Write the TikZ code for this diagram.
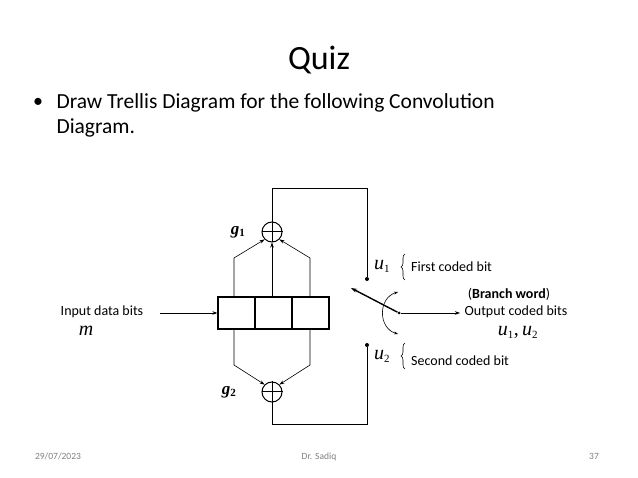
\documentclass[tikz,border=0pt]{standalone}
\usepackage{fontspec}
\setmainfont{Carlito}
\newfontfamily\tms{Liberation Serif}
\usetikzlibrary{arrows.meta,decorations.pathreplacing}
\newcommand{\sbs}[1]{\textsubscript{\upshape\fontsize{11}{11}\selectfont #1}}
\begin{document}
\begin{tikzpicture}[x=1pt,y=-1pt,
  ln/.style={line width=0.6pt},
  arr/.style={ln,-{Stealth[length=5pt,width=3.5pt]}},
  xorc/.style={circle,draw,line width=1pt,minimum size=20pt,inner sep=0pt},
  cell/.style={draw,line width=1.2pt,minimum width=37pt,minimum height=32pt,inner sep=0pt},
  dotn/.style={circle,fill,inner sep=0pt,minimum size=4pt},
  var/.style={font=\tms\itshape\fontsize{20}{20}\selectfont,inner sep=1pt},
  gv/.style={font=\tms\bfseries\itshape\fontsize{17}{17}\selectfont},
  lbl/.style={font=\fontsize{14}{16}\selectfont,inner sep=1pt},
  foot/.style={font=\fontsize{9.5}{10}\selectfont,text=gray,anchor=base}]
\useasboundingbox[fill=white] (0,0) rectangle (638,478);
\node[font=\fontsize{34}{38}\selectfont] (title) at (319,60) {Quiz};
\node[font=\fontsize{20}{20}\selectfont] (bul) at (38,103) {•};
\node[anchor=west,align=left,font=\fontsize{21.5}{25}\selectfont] (txt) at (53,115) {Draw Trellis Diagram for the following Convolution\\Diagram.};
% register
\node[cell] (c1) at (236.5,313) {};
\node[cell] (c2) at (273.5,313) {};
\node[cell] (c3) at (310.5,313) {};
\node[xorc] (x1) at (272,232) {};
\node[xorc] (x2) at (272,392) {};
\draw[line width=1pt] (x1.north)--(x1.south) (x1.west)--(x1.east);
\draw[line width=1pt] (x2.north)--(x2.south) (x2.west)--(x2.east);
\node[gv] (g1) at (238,232) {g\sbs{1}};
\node[gv] (g2) at (229,392) {g\sbs{2}};
% connections
\draw[arr] (234,297) -- (234,258) -- (x1.south west);
\draw[arr] (272,297) -- (x1.south);
\draw[arr] (310,297) -- (310,258) -- (x1.south east);
\draw[arr] (234,329) -- (234,365) -- (x2.north west);
\draw[arr] (310,329) -- (310,365) -- (x2.north east);
% feedback to switch contacts
\node[dotn] (d1) at (367,279) {};
\node[dotn] (d2) at (367,345) {};
\draw[ln] (x1.north) -- (272,188) -- (367,188) -- (d1);
\draw[ln] (x2.south) -- (272,424) -- (367,424) -- (d2);
% input
\coordinate (in) at (160,313);
\draw[arr] (in) -- (c1.west);
\node[lbl] (inl) at (102,312) {Input data bits};
\node[var] (m) at (86,331) {m};
% switch
\node[dotn,minimum size=3pt] (piv) at (399,313) {};
\coordinate (sw) at (351,288);
\draw[line width=1.4pt,-{Stealth[length=6pt,width=4pt]}] (piv) -- (sw);
\draw[ln,{Stealth[length=4pt,width=3pt]}-{Stealth[length=4pt,width=3pt]}] (398,292) .. controls (378,298) and (378,328) .. (398,334);
\coordinate (out) at (460,313);
\draw[arr] (piv) -- (out);
\node[lbl] (bw) at (509,294) {(\textbf{Branch word})};
\node[lbl] (ocb) at (516,312) {Output coded bits};
\node[var] (uu) at (518,332) {u\sbs{1}\upshape,\,\itshape u\sbs{2}};
\node[var] (u1) at (382,266) {u\sbs{1}};
\node[var] (u2) at (382,356) {u\sbs{2}};
\draw[ln,decorate,decoration={brace,amplitude=4pt}] (405,280) -- (405,254);
\draw[ln,decorate,decoration={brace,amplitude=4pt}] (405,369) -- (405,343);
\node[lbl,anchor=west] (f1) at (410,267) {First coded bit};
\node[lbl,anchor=west] (f2) at (410,361) {Second coded bit};
% footer
\node[foot] (date) at (58,460) {29/07/2023};
\node[foot] (auth) at (319,460) {Dr. Sadiq};
\node[foot] (pg) at (594,460) {37};
\end{tikzpicture}
\end{document}
